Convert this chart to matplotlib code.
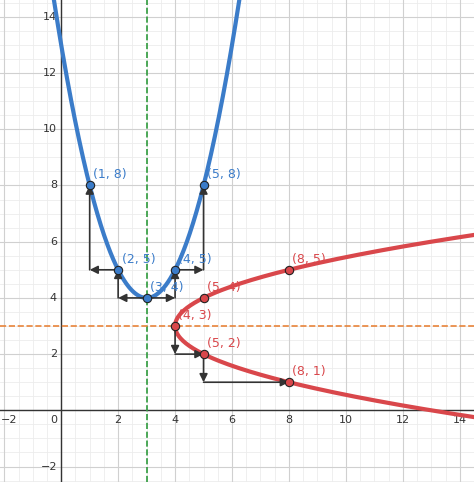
import numpy as np
import matplotlib.pyplot as plt

blue_pts = [(1, 8), (2, 5), (3, 4), (4, 5), (5, 8)]
red_pts = [(4, 3), (5, 4), (5, 2), (8, 5), (8, 1)]
blue_arrows = [((3, 4), (2, 4)), ((2, 4), (2, 5)), ((2, 5), (1, 5)), ((1, 5), (1, 8)),
               ((3, 4), (4, 4)), ((4, 4), (4, 5)), ((4, 5), (5, 5)), ((5, 5), (5, 8))]
red_arrows = [((4, 3), (4, 2)), ((4, 2), (5, 2)), ((5, 2), (5, 1)), ((5, 1), (8, 1))]

BLUE = "#3b7cc9"
RED = "#d9474b"

fig = plt.figure(figsize=(4.74, 4.82), dpi=100)
ax = fig.add_axes([0, 0, 1, 1])
ax.set_xlim(-2.15, 14.5)
ax.set_ylim(-2.55, 14.6)

for v in np.arange(-2.5, 15.01, 0.5):
    ax.axvline(v, color="#ececec", lw=0.6, zorder=0)
    ax.axhline(v, color="#ececec", lw=0.6, zorder=0)
for v in range(-2, 16, 2):
    ax.axvline(v, color="#d0d0d0", lw=0.8, zorder=0)
    ax.axhline(v, color="#d0d0d0", lw=0.8, zorder=0)
ax.axhline(0, color="#333333", lw=1, zorder=1)
ax.axvline(0, color="#333333", lw=1, zorder=1)
for v in range(-2, 16, 2):
    if v == 0:
        continue
    lab = str(v).replace("-", "\u2212")
    if v == -2:
        ax.text(-2.12, -0.15, lab, ha="left", va="top", fontsize=8, color="#333")
    else:
        ax.text(v, -0.15, lab, ha="center", va="top", fontsize=8, color="#333")
    ax.text(-0.15, v, lab, ha="right", va="center", fontsize=8, color="#333")
ax.text(-0.15, -0.15, "0", ha="right", va="top", fontsize=8, color="#333")

ax.axvline(3, color="#2e9a3c", ls="--", lw=1.2, zorder=2)
ax.axhline(3, color="#e8843a", ls="--", lw=1.2, zorder=2)

xs = np.linspace(-1, 7, 400)
ax.plot(xs, (xs - 3) ** 2 + 4, color=BLUE, lw=3, zorder=3)
ys = np.linspace(-3, 9, 400)
ax.plot((ys - 3) ** 2 + 4, ys, color=RED, lw=3, zorder=3)

for a, b in blue_arrows + red_arrows:
    ax.annotate("", xy=b, xytext=a, zorder=4,
                arrowprops=dict(arrowstyle="-|>", color="#333333", lw=1.2, mutation_scale=12,
                                shrinkA=0, shrinkB=0))

for pts, c in [(blue_pts, BLUE), (red_pts, RED)]:
    for x, y in pts:
        ax.plot(x, y, "o", ms=6, mfc=c, mec="#222222", mew=0.8, zorder=5)
        ax.text(x + 0.12, y + 0.25, f"({x}, {y})", color=c, fontsize=9, zorder=6)

ax.axis("off")
fig.savefig("out.png", dpi=100)
